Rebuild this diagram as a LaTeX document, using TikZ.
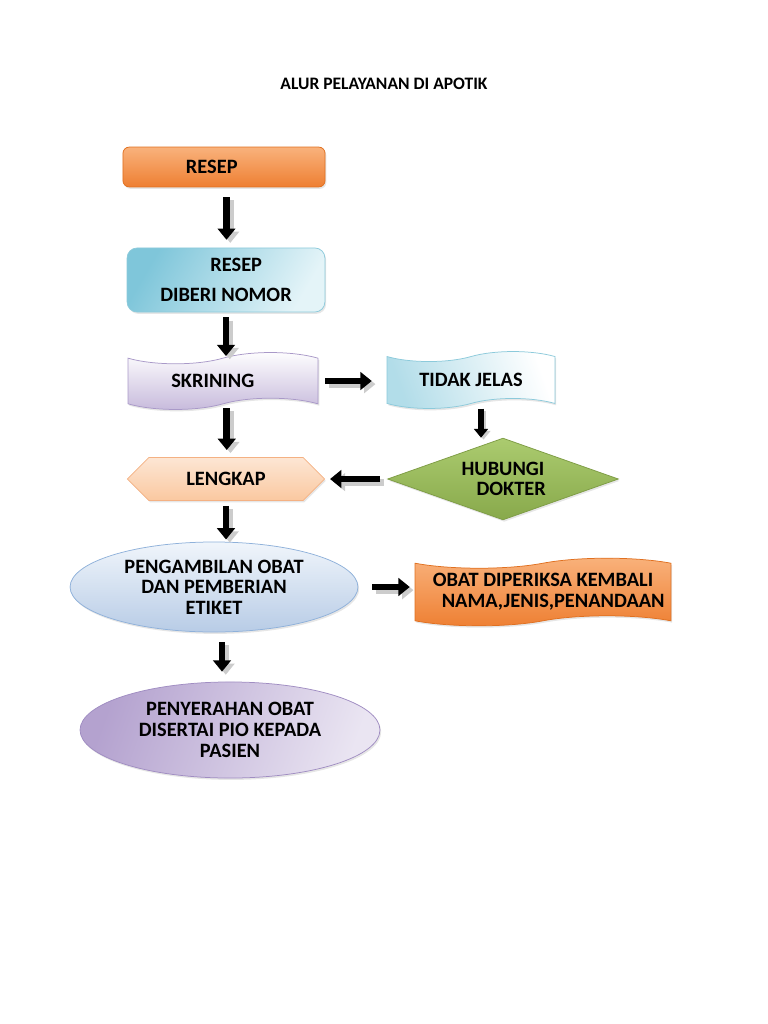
\documentclass[tikz,border=0pt]{standalone}
\usepackage{fontspec}
\setmainfont{Carlito}
\usetikzlibrary{shapes.geometric,shapes.symbols,arrows.meta,shadows}
\definecolor{orangeA}{HTML}{F9B27C}
\definecolor{orangeB}{HTML}{EE7F32}
\definecolor{orangeD}{HTML}{E07020}
\definecolor{cyanA}{HTML}{7FC6DA}
\definecolor{cyanB}{HTML}{E4F4F8}
\definecolor{cyanD}{HTML}{8CCADB}
\definecolor{lilacB}{HTML}{C6B9DB}
\definecolor{lilacD}{HTML}{A999C8}
\definecolor{greenA}{HTML}{ABCB6F}
\definecolor{greenB}{HTML}{88A94B}
\definecolor{greenD}{HTML}{7E9C45}
\definecolor{peachA}{HTML}{FDE6D4}
\definecolor{peachB}{HTML}{FAC8A0}
\definecolor{peachD}{HTML}{F4B183}
\definecolor{skyA}{HTML}{F0F5FB}
\definecolor{skyB}{HTML}{B8CCE6}
\definecolor{skyD}{HTML}{8FB1DA}
\definecolor{plumA}{HTML}{B4A2CF}
\definecolor{plumB}{HTML}{EAE5F2}
\definecolor{plumD}{HTML}{A08DC2}

\begin{document}
\begin{tikzpicture}[x=0.0281cm,y=-0.0281cm]
  \tikzstyle{every node}=[font=\bfseries\fontsize{16.3}{16.5}\selectfont,align=center,inner sep=0pt]
  \tikzstyle{box}=[draw,line width=0.6pt,drop shadow={opacity=0.2,shadow xshift=1pt,shadow yshift=-1.5pt}]
  \tikzstyle{blk}=[line width=5.5pt,-{Triangle[width=14pt,length=9pt]},
                   preaction={draw=gray!40,line width=5.5pt,-{Triangle[width=14pt,length=9pt]},
                              transform canvas={shift={(3pt,-2.5pt)}}}]
  \tikzstyle{blksmall}=[line width=4.5pt,-{Triangle[width=11pt,length=7pt]},
                   preaction={draw=gray!40,line width=4.5pt,-{Triangle[width=11pt,length=7pt]},
                              transform canvas={shift={(2pt,-1.5pt)}}}]
  \useasboundingbox (0,0) rectangle (768,1024);
  \node[font=\bfseries\fontsize{14}{15}\selectfont] (title) at (384,84) {ALUR PELAYANAN DI APOTIK};
  \node[box,rectangle,rounded corners=5pt,minimum width=5.68cm,minimum height=1.12cm,
        top color=orangeA,bottom color=orangeB,draw=orangeD] (resep) at (224,167) {RESEP\hspace*{1.2em}};
  \node[box,rectangle,rounded corners=8pt,minimum width=5.56cm,minimum height=1.8cm,
        left color=cyanA,right color=cyanB,shading angle=60,draw=cyanD] (nomor) at (226,280) {\hspace*{1em}RESEP\\[8pt]DIBERI NOMOR};
  \node[box,tape,tape bend height=9pt,minimum width=5.34cm,minimum height=1.6cm,
        top color=white,bottom color=lilacB,draw=lilacD] (skrining) at (223,381) {SKRINING\hspace*{1em}};
  \node[box,tape,tape bend height=8pt,minimum width=4.72cm,minimum height=1.6cm,
        left color=cyanA!60,right color=white,shading angle=110,draw=cyanD] (tidak) at (471,380) {TIDAK JELAS};
  \node[box,diamond,aspect=2.8,minimum width=6.49cm,minimum height=2.3cm,
        top color=greenA,bottom color=greenB,draw=greenD] (hubungi) at (503,479) {HUBUNGI\\\hspace*{0.8em}DOKTER};
  \node[box,signal,signal to=west and east,minimum width=5.54cm,minimum height=1.21cm,
        top color=peachA,bottom color=peachB,draw=peachD] (lengkap) at (226,479) {LENGKAP};
  \node[box,ellipse,minimum width=8.09cm,minimum height=2.53cm,
        top color=skyA,bottom color=skyB,draw=skyD] (ambil) at (214,587) {PENGAMBILAN OBAT\\DAN PEMBERIAN\\ETIKET};
  \node[box,tape,tape bend height=8pt,minimum width=7.19cm,minimum height=1.9cm,
        top color=orangeA,bottom color=orangeB,draw=orangeD] (obat) at (543,592) {OBAT DIPERIKSA KEMBALI\\\hspace*{1em}NAMA,JENIS,PENANDAAN};
  \node[box,ellipse,minimum width=8.43cm,minimum height=2.7cm,
        left color=plumA,right color=plumB,shading angle=70,draw=plumD] (serah) at (230,730) {PENYERAHAN OBAT\\DISERTAI PIO KEPADA\\PASIEN};
  \draw[blk,shorten <=0.28cm,shorten >=0.22cm] ([xshift=2pt]resep.south) -- ([xshift=2pt]resep.south |- nomor.north);
  \draw[blk,shorten <=0.14cm,shorten >=0.05cm] (nomor.south) -- (nomor.south |- skrining.north);
  \draw[blk,shorten <=0.11cm,shorten >=0.2cm] ([xshift=3pt]skrining.south) -- ([xshift=3pt]skrining.south |- lengkap.north);
  \draw[blk,shorten <=0.2cm,shorten >=0.42cm] (skrining.east) -- (skrining.east -| tidak.west);
  \draw[blksmall,shorten <=0.14cm] ([xshift=8pt]tidak.south) -- ([xshift=8pt]tidak.south |- hubungi.north);
  \draw[blk,shorten <=0.2cm,shorten >=0.14cm] (hubungi.west) -- (hubungi.west -| lengkap.east);
  \draw[blk,shorten <=0.14cm,shorten >=0.06cm] (lengkap.south) -- (lengkap.south |- ambil.north);
  \draw[blk,shorten <=0.39cm,shorten >=0.14cm] (ambil.east) -- (ambil.east -| obat.west);
  \draw[blk,shorten <=0.28cm,shorten >=0.28cm] ([xshift=6.4pt]ambil.south) -- ([xshift=6.4pt]ambil.south |- serah.north);
\end{tikzpicture}
\end{document}
